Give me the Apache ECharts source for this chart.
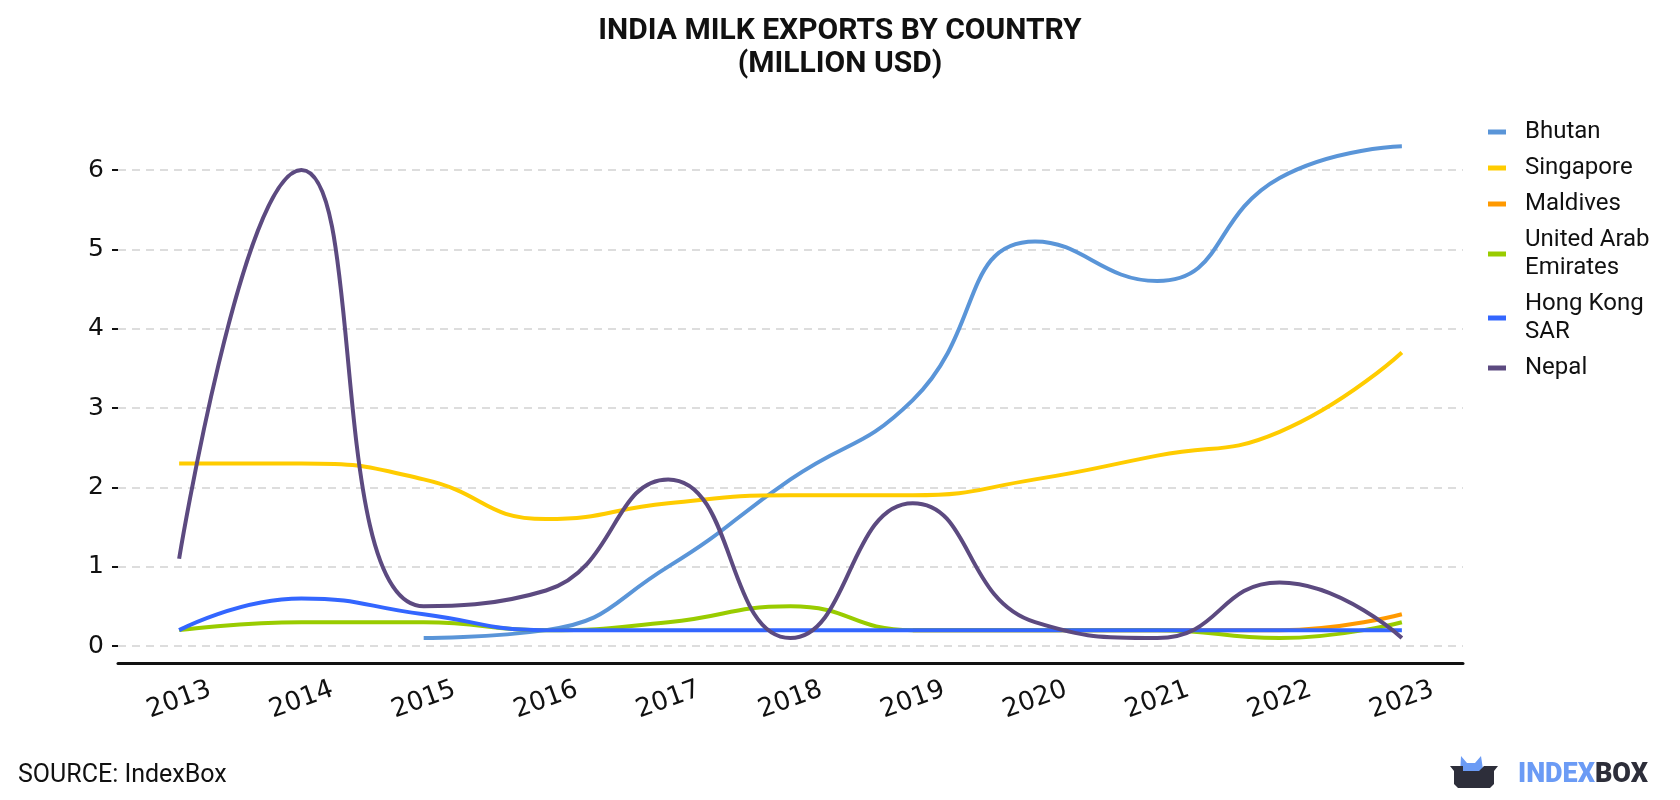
<!DOCTYPE html>
<html>
<head>
<meta charset="utf-8">
<script src="https://cdn.jsdelivr.net/npm/echarts@6/dist/echarts.min.js"></script>
<style>
  html, body { margin: 0; padding: 0; background: #fff; }
  #chart { width: 1680px; height: 800px; }
</style>
</head>
<body>
<div id="chart"></div>
<script>
const years = ['2013', '2014', '2015', '2016', '2017', '2018', '2019', '2020', '2021', '2022', '2023']

const bhutan = [null, null, 0.1, 0.2, 1.0, 2.1, 3.1, 5.1, 4.6, 5.9, 6.3]
const singapore = [2.3, 2.3, 2.1, 1.6, 1.8, 1.9, 1.9, 2.1, 2.4, 2.7, 3.7]
const maldives = [null, null, null, null, null, null, 0.2, 0.2, 0.2, 0.2, 0.4]
const uae = [0.2, 0.3, 0.3, 0.2, 0.3, 0.5, 0.2, 0.2, 0.2, 0.1, 0.3]
const hongKong = [0.2, 0.6, 0.4, 0.2, 0.2, 0.2, 0.2, 0.2, 0.2, 0.2, 0.2]
const nepal = [1.1, 6.0, 0.5, 0.7, 2.1, 0.1, 1.8, 0.3, 0.1, 0.8, 0.1]

const seriesList = [
  { name: 'Bhutan', data: bhutan, color: '#5a95d8' },
  { name: 'Singapore', data: singapore, color: '#ffcc00' },
  { name: 'Maldives', data: maldives, color: '#ff9900' },
  { name: 'United Arab Emirates', data: uae, color: '#99cc00' },
  { name: 'Hong Kong SAR', data: hongKong, color: '#3366ff' },
  { name: 'Nepal', data: nepal, color: '#5c4a80' },
]

const legendNames = {
  'United Arab Emirates': 'United Arab\nEmirates',
  'Hong Kong SAR': 'Hong Kong\nSAR',
}

const chart = echarts.init(document.getElementById('chart'))

chart.setOption({
  animation: false,
  title: {
    text: 'INDIA MILK EXPORTS BY COUNTRY\n(MILLION USD)',
    left: 'center',
    top: 10,
    textStyle: {
      fontFamily: 'Roboto',
      fontWeight: 'bold',
      fontSize: 30,
      lineHeight: 33,
      color: '#111',
    },
  },
  legend: {
    orient: 'vertical',
    left: 1483,
    top: 113,
    itemGap: 8,
    itemWidth: 18,
    itemHeight: 5,
    icon: 'rect',
    formatter: name => legendNames[name] || name,
    textStyle: {
      fontFamily: 'Roboto',
      fontSize: 24,
      lineHeight: 28,
      color: '#111',
      padding: [0, 0, 0, 14],
    },
    data: seriesList.map(s => s.name),
  },
  grid: {
    left: 118,
    right: 217,
    top: 170,
    bottom: 154,
  },
  xAxis: {
    type: 'category',
    data: years,
    boundaryGap: true,
    offset: 17,
    axisLine: { onZero: false, lineStyle: { color: '#111', width: 3 } },
    axisTick: { alignWithLabel: true, length: 7, lineStyle: { color: '#111', width: 2 } },
    axisLabel: {
      rotate: 20,
      align: 'center',
      verticalAlign: 'middle',
      margin: 37,
      fontFamily: 'DejaVu Sans',
      fontSize: 26,
      color: '#111',
    },
  },
  yAxis: {
    type: 'value',
    min: 0,
    max: 6,
    interval: 1,
    axisLine: { show: false },
    axisTick: { show: true, length: 6, lineStyle: { color: '#111', width: 2 } },
    axisLabel: {
      margin: 14,
      fontFamily: 'DejaVu Sans',
      fontSize: 25,
      color: '#111',
    },
    splitLine: {
      lineStyle: { color: '#dddddd', width: 2, type: [8, 6] },
    },
  },
  series: seriesList.map(s => ({
    name: s.name,
    type: 'line',
    data: s.data,
    smooth: 0.5,
    clip: false,
    showSymbol: false,
    symbol: 'none',
    color: s.color,
    lineStyle: { color: s.color, width: 4 },
    emphasis: { disabled: true },
  })),
  graphic: [
    {
      type: 'text',
      left: 18,
      top: 763,
      style: {
        text: 'SOURCE: IndexBox',
        fontFamily: 'Roboto',
        fontSize: 25,
        fill: '#111',
      },
    },
    {
      type: 'polygon',
      shape: { points: [[1460, 776], [1461, 756], [1467, 763], [1475, 763], [1481, 756], [1484, 776]] },
      style: { fill: '#6b9bf5' },
    },
    {
      type: 'polygon',
      shape: { points: [[1450, 766], [1463, 766], [1463, 771], [1479, 771], [1484, 766], [1498, 766], [1494, 771], [1494, 784], [1490, 788], [1458, 788], [1454, 784], [1454, 771]] },
      style: { fill: '#2d2e3a' },
    },
    {
      type: 'text',
      left: 1518,
      top: 762,
      style: {
        text: '{a|INDEX}{b|BOX}',
        rich: {
          a: { fontFamily: 'Roboto', fontWeight: 900, fontSize: 27, fill: '#6b9bf5' },
          b: { fontFamily: 'Roboto', fontWeight: 900, fontSize: 27, fill: '#2d2e3a' },
        },
      },
    },
  ],
})

window.addEventListener('resize', () => chart.resize())
</script>
</body>
</html>
